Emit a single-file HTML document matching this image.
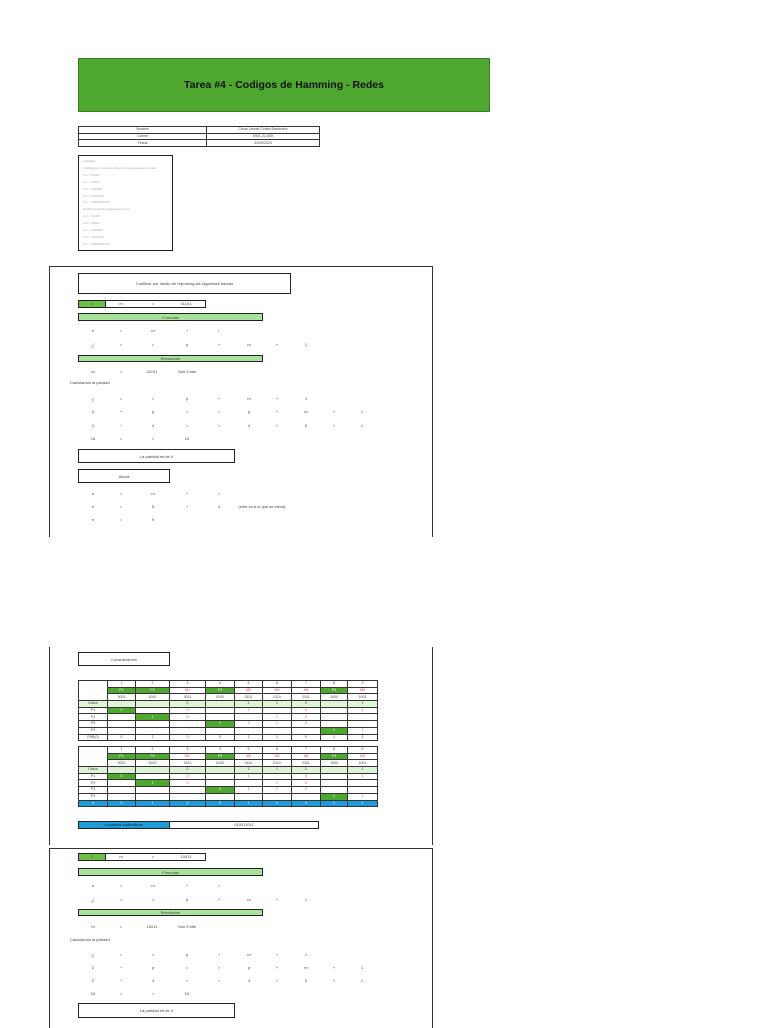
<!DOCTYPE html>
<html><head><meta charset="utf-8"><style>
*{margin:0;padding:0;box-sizing:border-box}
body{width:768px;height:1024px;background:#fff;position:relative;overflow:hidden;font-family:"Liberation Sans",sans-serif;color:#444}
.a{position:absolute}
.t{position:absolute;font-size:4px;line-height:5px;transform:translateX(-50%);white-space:nowrap}
.bx{position:absolute;border:1px solid #222;display:flex;align-items:center;justify-content:center;font-size:4px}
.g{background:#a9e29a}
.gd{background:#4ea72e;color:#fff}
table{position:absolute;border-collapse:collapse;font-size:3.5px;table-layout:fixed}
td{border:1px solid #333;text-align:center;padding:0;line-height:5px;height:6.7px;overflow:hidden}
.r{color:#e33}
.lg td{background:#dff3d6}
.bl td{background:#1f9bd7;color:#fff}
</style></head><body>

<div class="a" style="left:78px;top:58px;width:412px;height:54px;background:#4ea72e;border:1px solid #3a7d22;display:flex;align-items:center;justify-content:center;font-weight:bold;font-size:10.5px;color:#111">Tarea #4 - Codigos de Hamming - Redes</div>

<table style="left:78px;top:126px;width:241px">
<col style="width:128px"><col style="width:113px">
<tr><td>Nombre</td><td>Cesar Leonel Cortez Barrientos</td></tr>
<tr><td>Carnet</td><td>0901-21-505</td></tr>
<tr><td>Fecha</td><td>22/09/2024</td></tr>
</table>

<div class="a" style="left:78px;top:155px;width:95px;height:96px;border:1px solid #222;font-size:3px;color:#aaa;padding:2px 3px;line-height:6.9px">
v Detalles<br>&nbsp;Codificar por medio de Hamming las siguientes tramas:<br>&nbsp;1.m = 01101<br>&nbsp;2.m = 10011<br>&nbsp;3.m = 1100001<br>&nbsp;4.m = 00110011<br>&nbsp;5.m = 00000001000<br>&nbsp;Verificar detectar siguientes errores<br>&nbsp;1.m = 01000<br>&nbsp;2.m = 10000<br>&nbsp;3.m = 1100000<br>&nbsp;4.m = 11110011<br>&nbsp;5.m = 00000001000
</div>

<!-- frame 1 -->
<div class="a" style="left:49px;top:266px;width:384px;height:271px;border:1px solid #333;border-bottom:none"></div>
<div class="bx" style="left:78px;top:273px;width:213px;height:21px">Codificar por medio de Hamming las siguientes tramas</div>
<div class="bx" style="left:78px;top:300px;width:128px;height:8px"></div>
<div class="a gd" style="left:78px;top:300px;width:28px;height:8px;border:1px solid #222;background:#6cc04a"></div>
<div class="t" style="left:92px;top:301px">1</div><div class="t" style="left:121px;top:301px">m</div><div class="t" style="left:153px;top:301px">=</div><div class="t" style="left:186px;top:301px">01101</div>
<div class="bx g" style="left:78px;top:313px;width:185px;height:8px">Formulas</div>
<div class="t" style="left:93px;top:328px">n</div><div class="t" style="left:121px;top:328px">=</div><div class="t" style="left:153px;top:328px">m</div><div class="t" style="left:187px;top:328px">+</div><div class="t" style="left:219px;top:328px">r</div>
<div class="t" style="left:93px;top:342px">2<sup style="font-size:3px">r</sup></div><div class="t" style="left:121px;top:342px">=</div><div class="t" style="left:153px;top:342px">&gt;</div><div class="t" style="left:187px;top:342px">p</div><div class="t" style="left:219px;top:342px">+</div><div class="t" style="left:249px;top:342px">m</div><div class="t" style="left:277px;top:342px">+</div><div class="t" style="left:306px;top:342px">1</div>
<div class="bx g" style="left:78px;top:355px;width:185px;height:7px">Resolución</div>
<div class="t" style="left:93px;top:369px">m</div><div class="t" style="left:121px;top:369px">=</div><div class="t" style="left:152px;top:369px">01101</div><div class="t" style="left:187px;top:369px">Son 5 bits</div>
<div class="a" style="left:70px;top:380px;font-size:4px">Calculamos la paridad</div>
<div class="t" style="left:93px;top:396px">2<sup style="font-size:3px">r</sup></div><div class="t" style="left:121px;top:396px">=</div><div class="t" style="left:153px;top:396px">&gt;</div><div class="t" style="left:187px;top:396px">p</div><div class="t" style="left:219px;top:396px">+</div><div class="t" style="left:249px;top:396px">m</div><div class="t" style="left:277px;top:396px">+</div><div class="t" style="left:306px;top:396px">1</div>
<div class="t" style="left:93px;top:409px">2</div><div class="t" style="left:121px;top:409px">^</div><div class="t" style="left:153px;top:409px">p</div><div class="t" style="left:187px;top:409px">=</div><div class="t" style="left:219px;top:409px">&gt;</div><div class="t" style="left:249px;top:409px">p</div><div class="t" style="left:277px;top:409px">+</div><div class="t" style="left:306px;top:409px">m</div><div class="t" style="left:334px;top:409px">+</div><div class="t" style="left:362px;top:409px">1</div>
<div class="t" style="left:93px;top:423px">2</div><div class="t" style="left:121px;top:423px">^</div><div class="t" style="left:153px;top:423px">4</div><div class="t" style="left:187px;top:423px">=</div><div class="t" style="left:219px;top:423px">&gt;</div><div class="t" style="left:249px;top:423px">4</div><div class="t" style="left:277px;top:423px">+</div><div class="t" style="left:306px;top:423px">5</div><div class="t" style="left:334px;top:423px">+</div><div class="t" style="left:362px;top:423px">1</div>
<div class="t" style="left:93px;top:436px">16</div><div class="t" style="left:121px;top:436px">=</div><div class="t" style="left:153px;top:436px">&gt;</div><div class="t" style="left:187px;top:436px">10</div>
<div class="bx" style="left:78px;top:449px;width:157px;height:14px">La paridad es de 4</div>
<div class="bx" style="left:78px;top:469px;width:92px;height:14px">Ahora</div>
<div class="t" style="left:93px;top:491px">n</div><div class="t" style="left:121px;top:491px">=</div><div class="t" style="left:153px;top:491px">m</div><div class="t" style="left:187px;top:491px">+</div><div class="t" style="left:219px;top:491px">r</div>
<div class="t" style="left:93px;top:504px">n</div><div class="t" style="left:121px;top:504px">=</div><div class="t" style="left:153px;top:504px">5</div><div class="t" style="left:187px;top:504px">+</div><div class="t" style="left:219px;top:504px">4</div><div class="t" style="left:262px;top:504px">(este es a lo que se eleva)</div>
<div class="t" style="left:93px;top:517px">n</div><div class="t" style="left:121px;top:517px">=</div><div class="t" style="left:153px;top:517px">9</div>

<!-- frame 2 -->
<div class="a" style="left:49px;top:647px;width:384px;height:198px;border-left:1px solid #333;border-right:1px solid #333"></div>
<div class="bx" style="left:78px;top:652px;width:92px;height:14px">Consideramos</div>

<table style="left:78px;top:680px;width:299px">
<col style="width:29px"><col style="width:28px"><col style="width:34px"><col style="width:36px"><col style="width:29px"><col style="width:28px"><col style="width:29px"><col style="width:29px"><col style="width:27px"><col style="width:30px">
<tr><td rowspan="3"></td><td>1</td><td>2</td><td>3</td><td>4</td><td>5</td><td>6</td><td>7</td><td>8</td><td>9</td></tr>
<tr><td class="gd">P1</td><td class="gd">P2</td><td class="r">M1</td><td class="gd">P3</td><td class="r">M2</td><td class="r">M3</td><td class="r">M4</td><td class="gd">P4</td><td class="r">M5</td></tr>
<tr><td>0001</td><td>0010</td><td>0011</td><td>0100</td><td>0101</td><td>0110</td><td>0111</td><td>1000</td><td>1001</td></tr>
<tr class="lg"><td>Datos</td><td></td><td></td><td>0</td><td></td><td>1</td><td>1</td><td>0</td><td></td><td>1</td></tr>
<tr><td>P1</td><td class="gd">0</td><td></td><td class="r">0</td><td></td><td class="r">1</td><td></td><td class="r">0</td><td></td><td class="r">1</td></tr>
<tr><td>P2</td><td></td><td class="gd">1</td><td class="r">0</td><td></td><td></td><td class="r">1</td><td class="r">0</td><td></td><td></td></tr>
<tr><td>P3</td><td></td><td></td><td></td><td class="gd">0</td><td class="r">1</td><td class="r">1</td><td class="r">0</td><td></td><td></td></tr>
<tr><td>P4</td><td></td><td></td><td></td><td></td><td></td><td></td><td></td><td class="gd">1</td><td class="r">1</td></tr>
<tr><td>PAR(0)</td><td>0</td><td>1</td><td>0</td><td>0</td><td>1</td><td>1</td><td>0</td><td>1</td><td>1</td></tr>
</table>

<table style="left:78px;top:746px;width:299px">
<col style="width:29px"><col style="width:28px"><col style="width:34px"><col style="width:36px"><col style="width:29px"><col style="width:28px"><col style="width:29px"><col style="width:29px"><col style="width:27px"><col style="width:30px">
<tr><td rowspan="3"></td><td>1</td><td>2</td><td>3</td><td>4</td><td>5</td><td>6</td><td>7</td><td>8</td><td>9</td></tr>
<tr><td class="gd">P1</td><td class="gd">P2</td><td class="r">M1</td><td class="gd">P3</td><td class="r">M2</td><td class="r">M3</td><td class="r">M4</td><td class="gd">P4</td><td class="r">M5</td></tr>
<tr><td>0001</td><td>0010</td><td>0011</td><td>0100</td><td>0101</td><td>0110</td><td>0111</td><td>1000</td><td>1001</td></tr>
<tr class="lg"><td>Datos</td><td></td><td></td><td>0</td><td></td><td>1</td><td>1</td><td>0</td><td></td><td>1</td></tr>
<tr><td>P1</td><td class="gd">0</td><td></td><td class="r">0</td><td></td><td class="r">1</td><td></td><td class="r">0</td><td></td><td class="r">1</td></tr>
<tr><td>P2</td><td></td><td class="gd">1</td><td class="r">0</td><td></td><td></td><td class="r">1</td><td class="r">0</td><td></td><td></td></tr>
<tr><td>P3</td><td></td><td></td><td></td><td class="gd">0</td><td class="r">1</td><td class="r">1</td><td class="r">0</td><td></td><td></td></tr>
<tr><td>P4</td><td></td><td></td><td></td><td></td><td></td><td></td><td></td><td class="gd">1</td><td class="r">1</td></tr>
<tr class="bl"><td>n</td><td>0</td><td>1</td><td>0</td><td>0</td><td>1</td><td>1</td><td>0</td><td>1</td><td>1</td></tr>
</table>

<div class="bx" style="left:78px;top:821px;width:241px;height:8px"></div>
<div class="a" style="left:78px;top:821px;width:92px;height:8px;background:#1f9bd7;border:1px solid #222;font-size:3.5px;color:#123;text-align:center;line-height:6px">La palabra codificada es:</div>
<div class="t" style="left:244px;top:822px">010011011</div>

<!-- frame 3 -->
<div class="a" style="left:49px;top:848px;width:384px;height:180px;border:1px solid #333;border-bottom:none"></div>
<div class="bx" style="left:78px;top:853px;width:128px;height:8px"></div>
<div class="a" style="left:78px;top:853px;width:28px;height:8px;border:1px solid #222;background:#6cc04a"></div>
<div class="t" style="left:92px;top:854px">2</div><div class="t" style="left:121px;top:854px">m</div><div class="t" style="left:153px;top:854px">=</div><div class="t" style="left:186px;top:854px">10011</div>
<div class="bx g" style="left:78px;top:868px;width:185px;height:8px">Formulas</div>
<div class="t" style="left:93px;top:883px">n</div><div class="t" style="left:121px;top:883px">=</div><div class="t" style="left:153px;top:883px">m</div><div class="t" style="left:187px;top:883px">+</div><div class="t" style="left:219px;top:883px">r</div>
<div class="t" style="left:93px;top:897px">2<sup style="font-size:3px">r</sup></div><div class="t" style="left:121px;top:897px">=</div><div class="t" style="left:153px;top:897px">&gt;</div><div class="t" style="left:187px;top:897px">p</div><div class="t" style="left:219px;top:897px">+</div><div class="t" style="left:249px;top:897px">m</div><div class="t" style="left:277px;top:897px">+</div><div class="t" style="left:306px;top:897px">1</div>
<div class="bx g" style="left:78px;top:909px;width:185px;height:7px">Resolución</div>
<div class="t" style="left:93px;top:924px">m</div><div class="t" style="left:121px;top:924px">=</div><div class="t" style="left:152px;top:924px">10011</div><div class="t" style="left:187px;top:924px">Son 5 bits</div>
<div class="a" style="left:70px;top:937px;font-size:4px">Calculamos la paridad</div>
<div class="t" style="left:93px;top:952px">2<sup style="font-size:3px">r</sup></div><div class="t" style="left:121px;top:952px">=</div><div class="t" style="left:153px;top:952px">&gt;</div><div class="t" style="left:187px;top:952px">p</div><div class="t" style="left:219px;top:952px">+</div><div class="t" style="left:249px;top:952px">m</div><div class="t" style="left:277px;top:952px">+</div><div class="t" style="left:306px;top:952px">1</div>
<div class="t" style="left:93px;top:965px">2</div><div class="t" style="left:121px;top:965px">^</div><div class="t" style="left:153px;top:965px">p</div><div class="t" style="left:187px;top:965px">=</div><div class="t" style="left:219px;top:965px">&gt;</div><div class="t" style="left:249px;top:965px">p</div><div class="t" style="left:277px;top:965px">+</div><div class="t" style="left:306px;top:965px">m</div><div class="t" style="left:334px;top:965px">+</div><div class="t" style="left:362px;top:965px">1</div>
<div class="t" style="left:93px;top:978px">2</div><div class="t" style="left:121px;top:978px">^</div><div class="t" style="left:153px;top:978px">4</div><div class="t" style="left:187px;top:978px">=</div><div class="t" style="left:219px;top:978px">&gt;</div><div class="t" style="left:249px;top:978px">4</div><div class="t" style="left:277px;top:978px">+</div><div class="t" style="left:306px;top:978px">5</div><div class="t" style="left:334px;top:978px">+</div><div class="t" style="left:362px;top:978px">1</div>
<div class="t" style="left:93px;top:991px">16</div><div class="t" style="left:121px;top:991px">=</div><div class="t" style="left:153px;top:991px">&gt;</div><div class="t" style="left:187px;top:991px">10</div>
<div class="bx" style="left:78px;top:1003px;width:157px;height:15px">La paridad es de 4</div>
</body></html>
